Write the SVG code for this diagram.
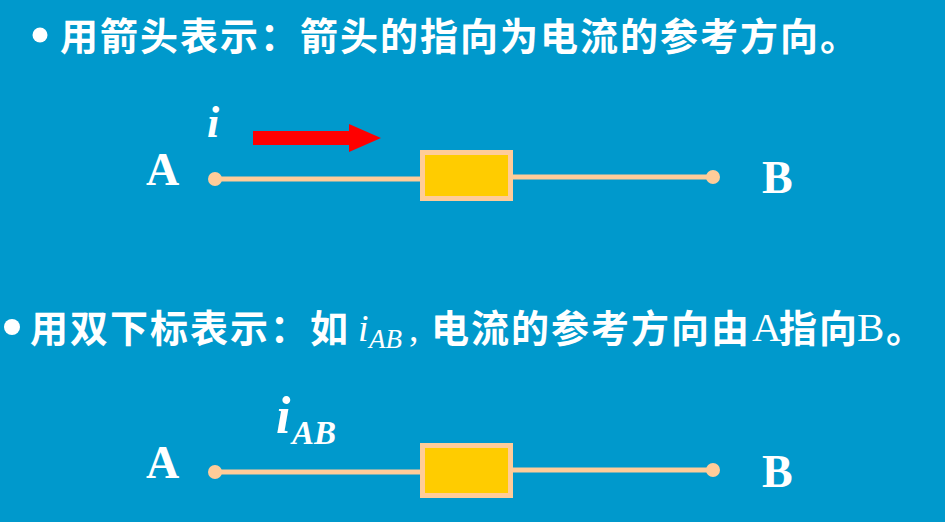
<svg xmlns="http://www.w3.org/2000/svg" width="945" height="522" viewBox="0 0 945 522">
  <style>
    .cn { font-family: "Noto Sans CJK SC", "Noto Sans", sans-serif; font-weight: bold; font-size: 38px; letter-spacing: 2px; fill: #FFFFFF; }
    .serif { font-family: "Liberation Serif", "Times New Roman", serif; fill: #FFFFFF; }
    .lbl { font-family: "Liberation Serif", "Times New Roman", serif; font-weight: bold; font-size: 46px; fill: #FFFFFF; }
    .wire { stroke: #FFCC99; stroke-width: 5; fill: none; }
    .term { fill: #FFCC99; }
    .res { fill: #FFCC00; stroke: #FFCC99; stroke-width: 5; }
  </style>
  <rect x="0" y="0" width="945" height="522" fill="#0099CC"/>

  <g id="heading1">
    <circle cx="40" cy="35" r="7.5" fill="#FFFFFF"/>
    <text class="cn" x="60" y="50">用箭头表示：箭头的指向为电流的参考方向。</text>
  </g>

  <g id="heading2">
    <circle cx="12" cy="327" r="8" fill="#FFFFFF"/>
    <text class="cn" x="30" y="342">用双下标表示：如</text>
    <text class="serif" x="358" y="341" font-style="italic" font-size="38">i</text>
    <text class="serif" x="369" y="348" font-style="italic" font-size="27">AB</text>
    <text class="serif" x="409" y="341" font-size="38">,</text>
    <text class="cn" x="431" y="342">电流的参考方向由</text>
    <text class="serif" x="752" y="341" font-size="41">A</text>
    <text class="cn" x="779" y="342" letter-spacing="-3" font-size="37">指向</text>
    <text class="serif" x="857" y="341" font-size="41">B</text>
    <text class="cn" x="886" y="342">。</text>
  </g>

  <g id="connectors">
    <line class="wire" x1="215" y1="179" x2="422" y2="179"/>
    <line class="wire" x1="511" y1="177" x2="713" y2="177"/>
    <line class="wire" x1="215" y1="472" x2="422" y2="472"/>
    <line class="wire" x1="511" y1="470" x2="713" y2="470"/>
  </g>

  <g id="circuit1">
    <g id="nodeA1">
      <text class="lbl" x="146" y="185">A</text>
      <circle class="term" cx="215" cy="179" r="7"/>
    </g>
    <g id="resistor1">
      <rect class="res" x="422.5" y="152.5" width="88" height="46"/>
    </g>
    <g id="nodeB1">
      <circle class="term" cx="713" cy="177" r="7"/>
      <text class="lbl" x="762" y="193">B</text>
    </g>
    <g id="current1">
      <text class="serif" x="207" y="137" font-style="italic" font-weight="bold" font-size="44">i</text>
      <polygon points="253,131 349,131 349,124 381,138 349,152 349,145 253,145" fill="#FF0000"/>
    </g>
  </g>

  <g id="circuit2">
    <g id="nodeA2">
      <text class="lbl" x="146" y="478">A</text>
      <circle class="term" cx="215" cy="472" r="7"/>
    </g>
    <g id="resistor2">
      <rect class="res" x="422.5" y="445.5" width="88" height="50"/>
    </g>
    <g id="nodeB2">
      <circle class="term" cx="713" cy="470" r="7"/>
      <text class="lbl" x="762" y="487">B</text>
    </g>
    <g id="current2">
      <text class="serif" x="276" y="433" font-style="italic" font-weight="bold" font-size="52">i</text>
      <text class="serif" x="292" y="444" font-style="italic" font-weight="bold" font-size="33">AB</text>
    </g>
  </g>
</svg>
